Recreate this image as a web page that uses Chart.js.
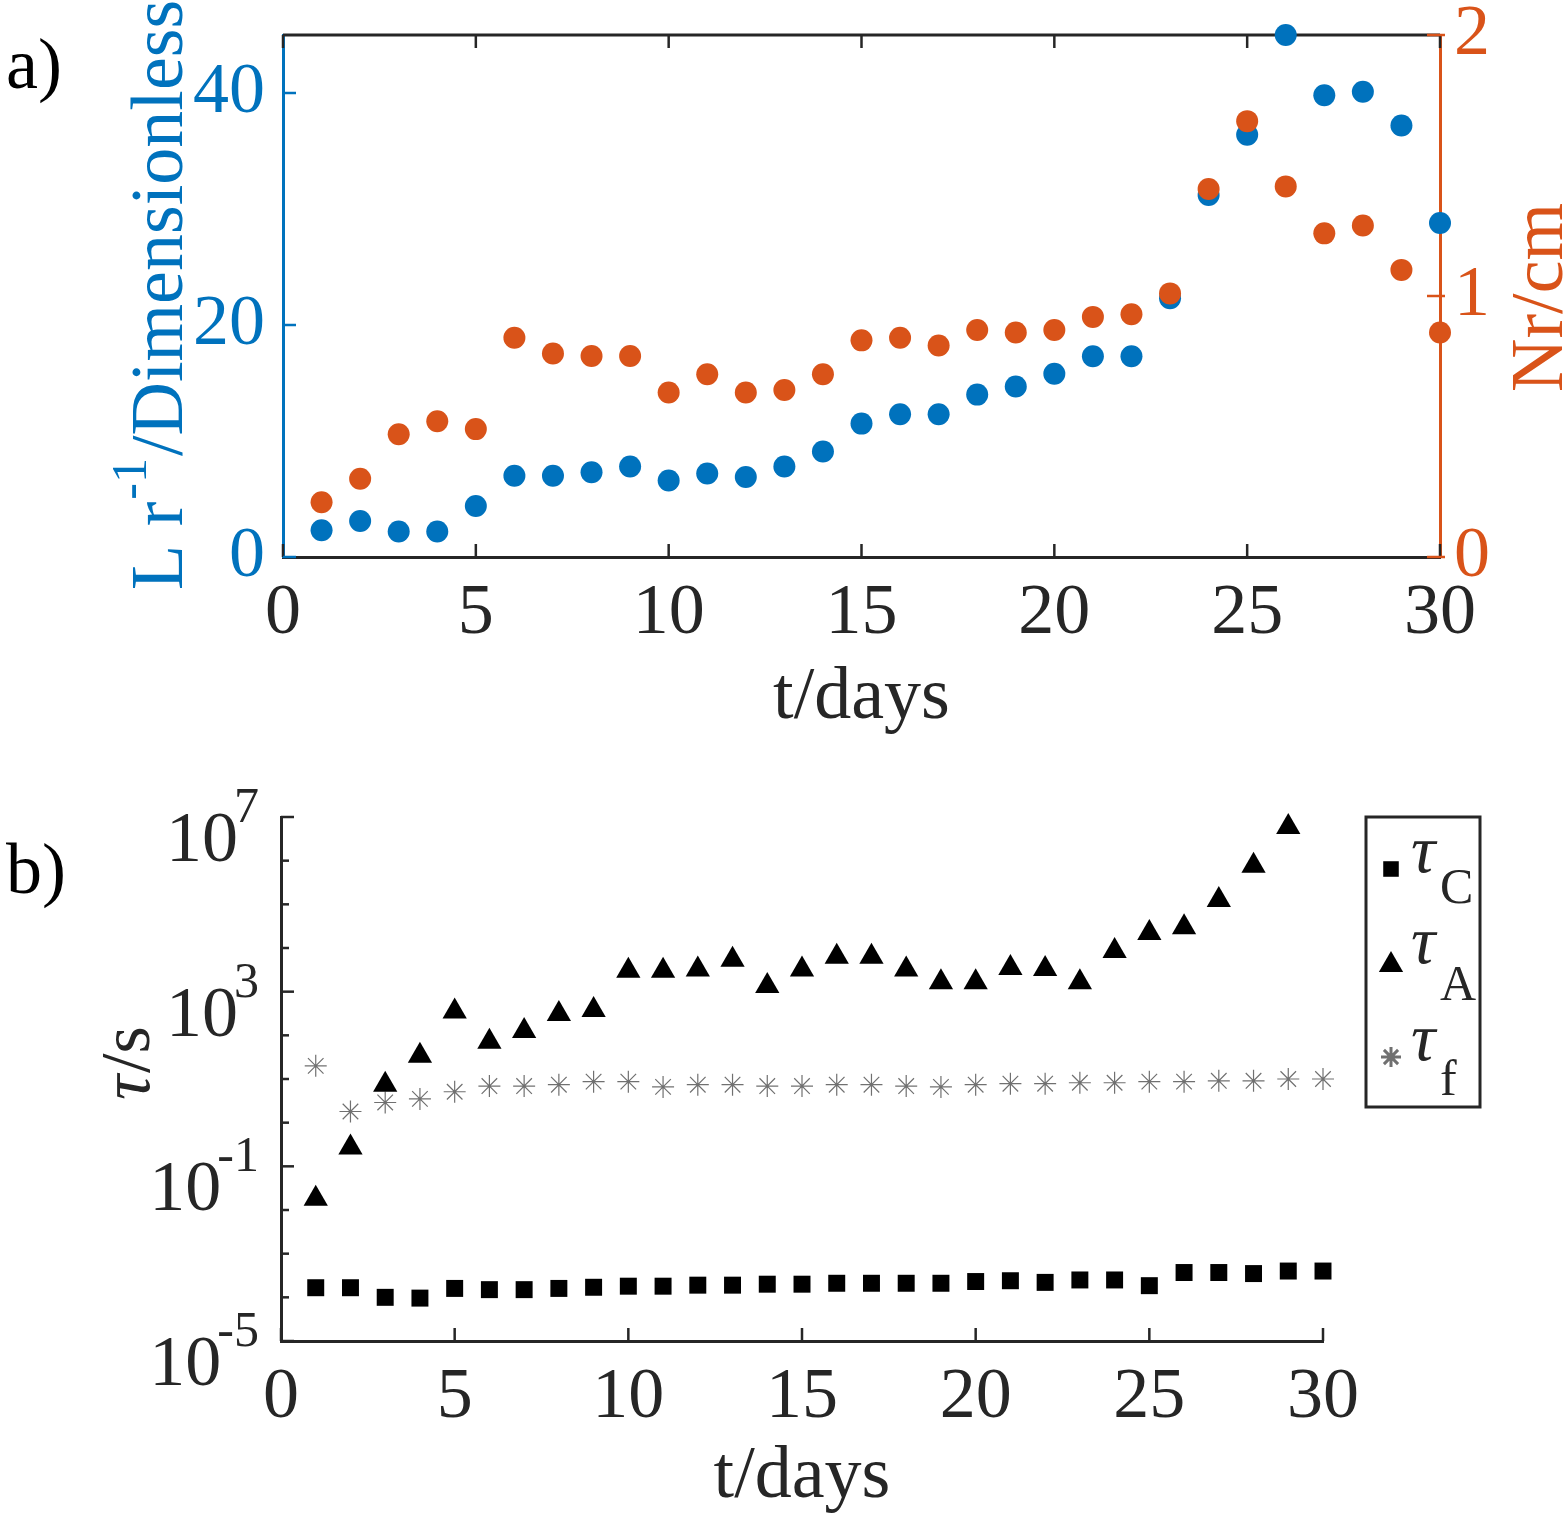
<!DOCTYPE html>
<html>
<head>
<meta charset="utf-8">
<script src="https://cdn.jsdelivr.net/npm/chart.js@4.4.1/dist/chart.umd.min.js"></script>
<style>
  body { margin: 0; background: #fff; width: 1567px; height: 1518px; position: relative; overflow: hidden; }
  canvas { position: absolute; left: 0; }
  #chartA { top: 0; }
  #chartB { top: 760px; }
  .panel { position: absolute; left: 6px; font-family: "Liberation Serif", serif; font-size: 72px; line-height: 72px; color: #000; }
</style>
</head>
<body>
<div class="panel" style="top:28px">a)</div>
<div class="panel" style="top:833px">b)</div>
<canvas id="chartA" width="1567" height="740"></canvas>
<canvas id="chartB" width="1567" height="758"></canvas>
<script>
// ---- data ----
const days = [1, 2, 3, 4, 5, 6, 7, 8, 9, 10, 11, 12, 13, 14, 15, 16, 17, 18, 19, 20, 21, 22, 23, 24, 25, 26, 27, 28, 29, 30]
const lrDimensionless = [2.3, 3.1, 2.2, 2.2, 4.4, 7.0, 7.0, 7.3, 7.8, 6.6, 7.2, 6.9, 7.8, 9.1, 11.5, 12.3, 12.3, 14.0, 14.7, 15.8, 17.3, 17.3, 22.3, 31.2, 36.4, 45.0, 39.8, 40.1, 37.2, 28.8]
const nrPerCm = [0.21, 0.30, 0.47, 0.52, 0.49, 0.84, 0.78, 0.77, 0.77, 0.63, 0.70, 0.63, 0.64, 0.70, 0.83, 0.84, 0.81, 0.87, 0.86, 0.87, 0.92, 0.93, 1.01, 1.41, 1.67, 1.42, 1.24, 1.27, 1.10, 0.86]

const tauC = [1.66e-4, 1.66e-4, 1.0e-4, 9.6e-5, 1.6e-4, 1.5e-4, 1.5e-4, 1.6e-4, 1.7e-4, 1.8e-4, 1.8e-4, 1.9e-4, 1.9e-4, 2.0e-4, 2.0e-4, 2.1e-4, 2.1e-4, 2.1e-4, 2.1e-4, 2.3e-4, 2.4e-4, 2.2e-4, 2.5e-4, 2.5e-4, 1.85e-4, 3.7e-4, 3.7e-4, 3.5e-4, 4.0e-4, 4.0e-4]
const tauA = [1.8e-2, 0.27, 7.4, 34, 350, 71, 126, 310, 380, 3000, 3000, 3200, 5400, 1350, 3200, 6300, 6300, 3200, 1650, 1650, 3500, 3300, 1650, 8500, 22000, 30000, 1.26e5, 7.6e5, 5.9e6]
const tauF = [20, 1.8, 2.9, 3.5, 5.1, 6.9, 6.9, 7.4, 8.7, 8.7, 6.6, 7.4, 7.4, 6.9, 6.9, 7.4, 7.4, 6.9, 6.6, 7.4, 7.8, 7.8, 8.2, 8.2, 8.7, 8.7, 9.1, 9.1, 10, 10]

const xTicks = [0, 5, 10, 15, 20, 25, 30]
const leftTicks = [0, 20, 40]
const rightTicks = [0, 1, 2]
const logMajor = [1e-5, 1e-1, 1e3, 1e7]
const logMajorExp = ["-5", "-1", "3", "7"]
const logMinor = [1e-4, 1e-3, 1e-2, 1, 10, 100, 1e4, 1e5, 1e6]

const SERIF = '"Liberation Serif", "Times New Roman", serif'
const BLUE = "#0072BD"
const ORANGE = "#D95319"
const INK = "#262626"
const STAR = "#707070"

function pairs(xs, ys) {
    return ys.map((v, i) => ({ x: xs[i], y: v }))
}
function line(ctx, x1, y1, x2, y2) {
    ctx.beginPath()
    ctx.moveTo(x1, y1)
    ctx.lineTo(x2, y2)
    ctx.stroke()
}
function fixTicks(list) {
    return function (scale) {
        scale.ticks = list.map(v => ({ value: v }))
    }
}
// force the box size and drop the label overflow padding so the plot area lands where it should
function boxSize(w, h) {
    return function (s) {
        if (w != null) s.width = w
        if (h != null) s.height = h
        s.paddingTop = 0
        s.paddingBottom = 0
        s.paddingLeft = 0
        s.paddingRight = 0
    }
}

// ---- panel a ----
const frameA = {
    id: "frameA",
    beforeDatasetsDraw(chart) {
        const { ctx, chartArea: { left, right, top, bottom }, scales: { x, y, y2 } } = chart
        ctx.save()
        ctx.lineWidth = 3
        ctx.strokeStyle = INK
        line(ctx, left, top, right, top)
        ctx.lineWidth = 2.5
        xTicks.forEach(v => {
            const px = x.getPixelForValue(v)
            line(ctx, px, bottom, px, bottom - 13)
            line(ctx, px, top, px, top + 13)
        })
        ctx.strokeStyle = BLUE
        leftTicks.forEach(v => {
            const py = y.getPixelForValue(v)
            line(ctx, left, py, left + 13, py)
        })
        ctx.strokeStyle = ORANGE
        rightTicks.forEach(v => {
            const py = y2.getPixelForValue(v)
            line(ctx, right - 13, py, right + 5, py)
        })

        // x title
        ctx.fillStyle = INK
        ctx.font = "74px " + SERIF
        ctx.textAlign = "center"
        ctx.textBaseline = "alphabetic"
        ctx.fillText("t/days", (left + right) / 2, 718)

        // left title with superscript
        ctx.save()
        ctx.translate(182, 590)
        ctx.rotate(-Math.PI / 2)
        ctx.textAlign = "left"
        ctx.fillStyle = BLUE
        ctx.font = "74px " + SERIF
        let cx = 0
        ctx.fillText("L r", cx, 0)
        cx += ctx.measureText("L r").width + 2
        ctx.font = "50px " + SERIF
        ctx.fillText("-1", cx, -36)
        cx += ctx.measureText("-1").width + 2
        ctx.font = "74px " + SERIF
        ctx.fillText("/Dimensionless", cx, 0)
        ctx.restore()

        // right title
        ctx.save()
        ctx.translate(1562, 392)
        ctx.rotate(-Math.PI / 2)
        ctx.textAlign = "left"
        ctx.fillStyle = ORANGE
        ctx.font = "74px " + SERIF
        ctx.fillText("Nr/cm", 0, 0)
        ctx.restore()
        ctx.restore()
    }
}

new Chart(document.getElementById("chartA"), {
    type: "scatter",
    data: {
        datasets: [
            {
                label: "Nr/cm",
                data: pairs(days, nrPerCm),
                yAxisID: "y2",
                order: 0,
                clip: false,
                pointStyle: "circle",
                pointRadius: 11,
                backgroundColor: ORANGE,
                borderWidth: 0
            },
            {
                label: "L r-1/Dimensionless",
                data: pairs(days, lrDimensionless),
                yAxisID: "y",
                order: 1,
                clip: false,
                pointStyle: "circle",
                pointRadius: 11,
                backgroundColor: BLUE,
                borderWidth: 0
            }
        ]
    },
    options: {
        responsive: false,
        animation: false,
        layout: { padding: { top: 35, left: 0, right: 0, bottom: 0 } },
        plugins: { legend: { display: false }, tooltip: { enabled: false } },
        scales: {
            x: {
                type: "linear",
                min: 0,
                max: 30,
                afterBuildTicks: fixTicks(xTicks),
                afterFit: boxSize(null, 183),
                grid: { display: false, drawTicks: false },
                border: { display: true, color: INK, width: 3 },
                ticks: { font: { family: SERIF, size: 72 }, color: INK, padding: 14, maxRotation: 0 }
            },
            y: {
                position: "left",
                min: 0,
                max: 45,
                afterBuildTicks: fixTicks(leftTicks),
                afterFit: boxSize(283, null),
                grid: { display: false, drawTicks: false },
                border: { display: true, color: BLUE, width: 3 },
                ticks: { font: { family: SERIF, size: 72 }, color: BLUE, padding: 18 }
            },
            y2: {
                position: "right",
                min: 0,
                max: 2,
                afterBuildTicks: fixTicks(rightTicks),
                afterFit: boxSize(127, null),
                grid: { display: false, drawTicks: false },
                border: { display: true, color: ORANGE, width: 3 },
                ticks: { font: { family: SERIF, size: 72 }, color: ORANGE, padding: 14 }
            }
        }
    },
    plugins: [frameA]
})

// ---- panel b ----
const frameB = {
    id: "frameB",
    beforeDatasetsDraw(chart) {
        const { ctx, chartArea: { left, right, top, bottom }, scales: { x, y } } = chart
        ctx.save()
        ctx.strokeStyle = INK
        ctx.lineWidth = 2.5
        xTicks.forEach(v => {
            const px = x.getPixelForValue(v)
            line(ctx, px, bottom, px, bottom - 13)
        })
        logMajor.forEach(v => {
            const py = y.getPixelForValue(v)
            line(ctx, left, py, left + 13, py)
        })
        logMinor.forEach(v => {
            const py = y.getPixelForValue(v)
            line(ctx, left, py, left + 8, py)
        })

        // y tick labels 10^n
        ctx.fillStyle = INK
        ctx.textAlign = "left"
        ctx.textBaseline = "alphabetic"
        logMajor.forEach((v, i) => {
            const py = y.getPixelForValue(v)
            ctx.font = "50px " + SERIF
            const sw = ctx.measureText(logMajorExp[i]).width
            ctx.font = "72px " + SERIF
            const bw = ctx.measureText("10").width
            const xEnd = 259
            ctx.fillText("10", xEnd - sw - bw + 4, py + 44)
            ctx.font = "50px " + SERIF
            ctx.fillText(logMajorExp[i], xEnd - sw, py + 5)
        })

        // x title
        ctx.font = "74px " + SERIF
        ctx.textAlign = "center"
        ctx.fillText("t/days", (left + right) / 2, 737)

        // y title  tau/s
        ctx.save()
        ctx.translate(149, 340)
        ctx.rotate(-Math.PI / 2)
        ctx.textAlign = "left"
        ctx.font = "italic 70px " + SERIF
        ctx.fillText("\u03c4", 0, 0)
        const tw = ctx.measureText("\u03c4").width
        ctx.font = "70px " + SERIF
        ctx.fillText("/s", tw + 2, 0)
        ctx.restore()
        ctx.restore()
    },
    afterDraw(chart) {
        const { ctx } = chart
        ctx.save()
        // legend box
        ctx.strokeStyle = INK
        ctx.lineWidth = 3
        ctx.fillStyle = "#fff"
        ctx.fillRect(1366, 57, 114, 290)
        ctx.strokeRect(1366, 57, 114, 290)

        const rows = [
            { style: "rect", r: 11, fill: "#000", stroke: "#000", lw: 0, y: 109, sub: "C", tb: 112, sb: 143 },
            { style: "triangle", r: 14, fill: "#000", stroke: "#000", lw: 0, y: 205, sub: "A", tb: 203, sb: 240 },
            { style: "star", r: 10, fill: STAR, stroke: STAR, lw: 1.2, y: 297, sub: "f", tb: 300, sb: 335 }
        ]
        rows.forEach(row => {
            ctx.fillStyle = row.fill
            ctx.strokeStyle = row.stroke
            Chart.helpers.drawPoint(ctx, { pointStyle: row.style, radius: row.r, borderWidth: row.lw, rotation: 0 }, 1391, row.y)
            ctx.fillStyle = INK
            ctx.textAlign = "left"
            ctx.textBaseline = "alphabetic"
            ctx.font = "italic 68px " + SERIF
            ctx.fillText("\u03c4", 1411, row.tb)
            ctx.font = "50px " + SERIF
            ctx.fillText(row.sub, 1440, row.sb)
        })
        ctx.restore()
    }
}

new Chart(document.getElementById("chartB"), {
    type: "scatter",
    data: {
        datasets: [
            {
                label: "\u03c4C",
                data: pairs(days, tauC),
                clip: false,
                pointStyle: "rect",
                pointRadius: 12,
                backgroundColor: "#000",
                borderWidth: 0
            },
            {
                label: "\u03c4A",
                data: pairs(days, tauA),
                clip: false,
                pointStyle: "triangle",
                pointRadius: 14,
                backgroundColor: "#000",
                borderWidth: 0
            },
            {
                label: "\u03c4f",
                data: pairs(days, tauF),
                clip: false,
                pointStyle: "star",
                pointRadius: 11,
                backgroundColor: STAR,
                borderColor: STAR,
                borderWidth: 1.2
            }
        ]
    },
    options: {
        responsive: false,
        animation: false,
        layout: { padding: { top: 57, left: 0, right: 244, bottom: 0 } },
        plugins: { legend: { display: false }, tooltip: { enabled: false } },
        scales: {
            x: {
                type: "linear",
                min: 0,
                max: 30,
                afterBuildTicks: fixTicks(xTicks),
                afterFit: boxSize(null, 177),
                grid: { display: false, drawTicks: false },
                border: { display: true, color: INK, width: 3 },
                ticks: { font: { family: SERIF, size: 72 }, color: INK, padding: 14, maxRotation: 0 }
            },
            y: {
                type: "logarithmic",
                min: 1e-5,
                max: 1e7,
                afterBuildTicks: fixTicks(logMajor),
                afterFit: boxSize(281, null),
                grid: { display: false, drawTicks: false },
                border: { display: true, color: INK, width: 3 },
                ticks: { display: false }
            }
        }
    },
    plugins: [frameB]
})
</script>
</body>
</html>
